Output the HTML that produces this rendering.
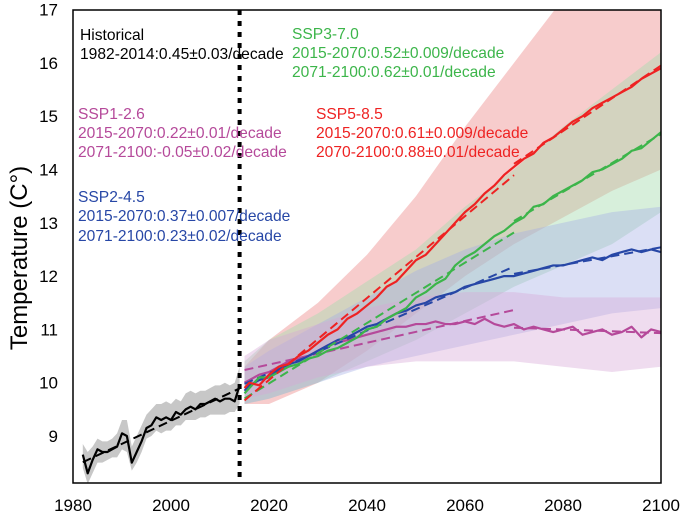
<!DOCTYPE html>
<html><head><meta charset="utf-8"><style>
html,body{margin:0;padding:0;background:#fff;}
svg{display:block;font-family:"Liberation Sans",Arial,sans-serif;}
</style></head><body>
<svg id="chart" width="685" height="517" viewBox="0 0 685 517">
<g id="bands"></g>
<g id="lines"></g>
<g id="axes"></g>
<g font-size="15.6">
<text x="80" y="40" fill="#000">Historical</text>
<text x="80" y="59" fill="#000">1982-2014:0.45±0.03/decade</text>
<text x="292" y="39" fill="#3cb54a">SSP3-7.0</text>
<text x="292" y="58" fill="#3cb54a">2015-2070:0.52±0.009/decade</text>
<text x="292" y="77" fill="#3cb54a">2071-2100:0.62±0.01/decade</text>
<text x="78" y="119" fill="#b5499a">SSP1-2.6</text>
<text x="78" y="138" fill="#b5499a">2015-2070:0.22±0.01/decade</text>
<text x="78" y="157" fill="#b5499a">2071-2100:-0.05±0.02/decade</text>
<text x="316" y="119" fill="#ee2222">SSP5-8.5</text>
<text x="316" y="138" fill="#ee2222">2015-2070:0.61±0.009/decade</text>
<text x="316" y="157" fill="#ee2222">2070-2100:0.88±0.01/decade</text>
<text x="78" y="202" fill="#2747a6">SSP2-4.5</text>
<text x="78" y="221" fill="#2747a6">2015-2070:0.37±0.007/decade</text>
<text x="78" y="241" fill="#2747a6">2071-2100:0.23±0.02/decade</text>
</g>
<text transform="translate(27,258) rotate(-90)" text-anchor="middle" font-size="24">Temperature (C°)</text>
</svg>
<script>
const xTicks=[1980,2000,2020,2040,2060,2080,2100];
const yTicks=[9,10,11,12,13,14,15,16,17];
const histYears=[];for(let y=1982;y<=2014;y++)histYears.push(y);
const histValues=[8.65,8.3,8.55,8.75,8.7,8.7,8.75,8.8,9.05,9.0,8.5,8.7,8.9,9.15,9.2,9.35,9.3,9.35,9.3,9.45,9.4,9.5,9.55,9.5,9.6,9.6,9.65,9.7,9.65,9.7,9.7,9.65,9.95];
const histLower=[8.4,8.1,8.3,8.5,8.5,8.55,8.6,8.6,8.75,8.7,8.35,8.5,8.7,8.95,9.0,9.1,9.05,9.1,9.1,9.2,9.2,9.3,9.3,9.3,9.35,9.35,9.4,9.4,9.4,9.4,9.45,9.45,9.6];
const histUpper=[8.85,8.7,8.8,8.95,8.9,8.9,8.95,9.05,9.3,9.3,8.8,9.0,9.2,9.4,9.5,9.6,9.6,9.65,9.6,9.7,9.65,9.8,9.85,9.8,9.85,9.85,9.9,9.95,9.95,10.0,9.95,10.0,10.3];
const projYears=[2015];for(let y=2016;y<=2100;y+=2)projYears.push(y);
const ssp585=[9.9,10.0,9.95,10.15,10.3,10.35,10.5,10.6,10.75,10.9,11.0,11.2,11.3,11.45,11.6,11.8,11.9,12.1,12.3,12.4,12.6,12.8,13.0,13.2,13.35,13.55,13.7,13.9,14.05,14.2,14.3,14.5,14.6,14.75,14.9,15.0,15.15,15.25,15.35,15.45,15.55,15.7,15.8,15.9];
const ssp370=[9.8,9.9,10.1,10.1,10.2,10.3,10.35,10.45,10.5,10.6,10.65,10.75,10.85,11.0,11.05,11.2,11.3,11.4,11.6,11.7,11.85,11.95,12.2,12.35,12.45,12.6,12.75,12.85,13.0,13.1,13.3,13.35,13.5,13.6,13.7,13.8,13.95,14.0,14.1,14.2,14.35,14.4,14.55,14.7];
const ssp245=[9.85,9.95,10.05,10.1,10.25,10.35,10.4,10.5,10.6,10.7,10.8,10.85,10.95,11.05,11.1,11.2,11.3,11.35,11.45,11.5,11.6,11.65,11.7,11.8,11.85,11.9,11.95,12.0,12.0,12.05,12.1,12.15,12.2,12.2,12.25,12.3,12.35,12.3,12.4,12.45,12.5,12.45,12.5,12.45];
const ssp126=[10.0,10.05,10.15,10.2,10.3,10.4,10.45,10.5,10.6,10.7,10.75,10.8,10.85,10.9,10.95,11.0,11.05,11.05,11.1,11.1,11.15,11.1,11.1,11.15,11.1,11.2,11.1,11.05,11.1,11.0,11.05,11.0,10.95,11.0,11.05,10.9,10.95,11.0,10.9,10.95,11.05,10.85,11.0,10.95];
const bandYears=[2015,2020,2030,2040,2050,2060,2070,2080,2090,2100];
const ssp585Lower=[9.6,9.6,10.0,10.6,11.3,12.0,12.6,13.1,13.6,14.0];
const ssp585Upper=[10.3,10.8,11.5,12.4,13.5,14.8,16.0,17.2,17.5,17.5];
const ssp370Lower=[9.6,9.7,10.0,10.4,10.8,11.3,11.8,12.2,12.6,13.2];
const ssp370Upper=[10.4,10.8,11.3,11.9,12.5,13.3,14.0,14.8,15.5,16.2];
const ssp245Lower=[9.6,9.7,10.0,10.3,10.5,10.7,10.9,11.1,11.3,11.4];
const ssp245Upper=[10.3,10.6,11.1,11.6,12.1,12.5,12.8,13.0,13.2,13.3];
const ssp126Lower=[9.7,9.8,10.1,10.3,10.4,10.4,10.4,10.3,10.2,10.3];
const ssp126Upper=[10.5,10.8,11.1,11.4,11.6,11.7,11.7,11.6,11.6,11.6];

const X0=73,X1=661,YB=483,YT=10;
const xS=y=>X0+(y-1980)/120*(X1-X0);
const yS=v=>436-(v-9)*53.3;
const NS="http://www.w3.org/2000/svg";
function mk(tag,parent,attrs){const e=document.createElementNS(NS,tag);for(const k in attrs)e.setAttribute(k,attrs[k]);parent.appendChild(e);return e;}
const svg=document.getElementById('chart');
const defs=mk('defs',svg,{});
const cp=mk('clipPath',defs,{id:'clip'});
mk('rect',cp,{x:X0,y:YT,width:X1-X0,height:YB-YT});
const bands=document.getElementById('bands');bands.setAttribute('clip-path','url(#clip)');
const lines=document.getElementById('lines');lines.setAttribute('clip-path','url(#clip)');
const axes=document.getElementById('axes');

function band(xs,lo,hi,color,op,name){
  let pts=xs.map((y,i)=>xS(y)+','+yS(hi[i]));
  for(let i=xs.length-1;i>=0;i--)pts.push(xS(xs[i])+','+yS(lo[i]));
  const p=mk('polygon',bands,{points:pts.join(' '),fill:color,'fill-opacity':op});
  
  
}
band(histYears,histLower,histUpper,'#bdbdbd',0.85,'historical-band');
band(bandYears,ssp585Lower,ssp585Upper,'#f09a9a',0.5,'ssp585-band');
band(bandYears,ssp370Lower,ssp370Upper,'#a6dcb0',0.45,'ssp370-band');
band(bandYears,ssp245Lower,ssp245Upper,'#a6aee6',0.4,'ssp245-band');
band(bandYears,ssp126Lower,ssp126Upper,'#d8a8d8',0.4,'ssp126-band');

function line(xs,vs,color,name){
  const p=mk('polyline',lines,{points:xs.map((y,i)=>xS(y)+','+yS(vs[i])).join(' '),fill:'none',stroke:color,'stroke-width':2.2,'stroke-linejoin':'round'});
  
  
}
function trend(xs,vs,a,b,color,name){
  const px=[],py=[];xs.forEach((y,i)=>{if(y>=a&&y<=b){px.push(y);py.push(vs[i]);}});
  const n=px.length,mx=px.reduce((s,v)=>s+v,0)/n,my=py.reduce((s,v)=>s+v,0)/n;
  let sxy=0,sxx=0;for(let i=0;i<n;i++){sxy+=(px[i]-mx)*(py[i]-my);sxx+=(px[i]-mx)**2;}
  const m=sxy/sxx,f=y=>my+m*(y-mx);
  const l=mk('line',lines,{x1:xS(a),y1:yS(f(a)),x2:xS(b),y2:yS(f(b)),stroke:color,'stroke-width':2,'stroke-dasharray':'9,5'});
  
  
}
line(histYears,histValues,'#000','historical-line');
trend(histYears,histValues,1982,2014,'#000','historical-trend-line');
const sers=[[ssp126,'#b5499a','ssp126'],[ssp245,'#2747a6','ssp245'],[ssp370,'#3cb54a','ssp370'],[ssp585,'#ee2222','ssp585']];
sers.forEach(s=>{
  line(projYears,s[0],s[1],s[2]+'-line');
  trend(projYears,s[0],2015,2070,s[1],s[2]+'-trend-2015-2070');
  trend(projYears,s[0],2070,2100,s[1],s[2]+'-trend-2071-2100');
});

const dv=mk('line',axes,{x1:xS(2014),y1:YT,x2:xS(2014),y2:YB,stroke:'#000','stroke-width':4,'stroke-dasharray':'5,6'});


const fr=mk('path',axes,{d:`M${X0},${YT} H${X1} V${YB} H${X0} Z`,fill:'none',stroke:'#000','stroke-width':1.5});


xTicks.forEach(t=>{
  const e=mk('text',axes,{x:xS(t),y:511,'text-anchor':'middle','font-size':17});
  e.textContent=t;
  
  
});
yTicks.forEach(t=>{
  const e=mk('text',axes,{x:58,y:yS(t)+6,'text-anchor':'end','font-size':17});
  e.textContent=t;
  
  
});
</script>
</body></html>
